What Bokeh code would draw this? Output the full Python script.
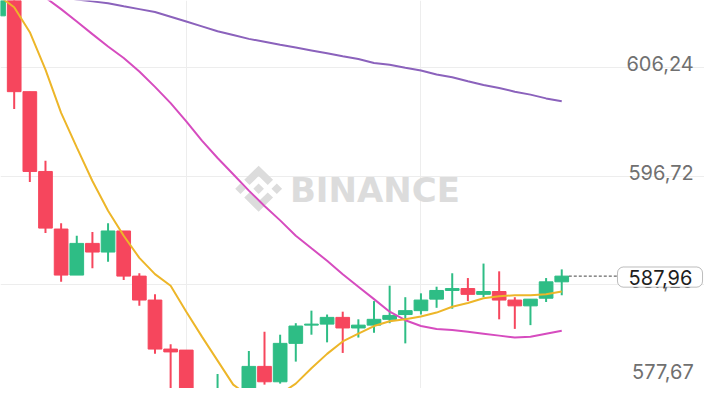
import numpy as np
from bokeh.plotting import figure
from bokeh.models import Range1d, FixedTicker, BoxAnnotation, Label, ColumnDataSource
from bokeh.core.properties import value
from bokeh.embed import file_html
from bokeh.resources import INLINE

# ---------------- data ----------------
idx = list(range(-1, 36))
opens = [610.79, 613.83, 604.14, 597.14, 592.09, 588.05, 590.83, 590.07, 591.92, 587.96,
         585.86, 581.56, 581.47, 575.07, 573.81, 576.93, 575.91, 580.04, 578.69, 582.06,
         583.66, 583.75, 584.34, 583.41, 583.66, 584.17, 584.59, 584.93, 585.94, 586.70,
         586.87, 586.36, 586.61, 585.86, 585.35, 586.02, 587.46]
highs = [614.25, 614.25, 604.14, 598.07, 592.59, 591.50, 591.84, 592.59, 591.92, 588.21,
         586.36, 581.98, 581.47, 576.76, 579.37, 577.77, 581.39, 583.08, 582.82, 583.83,
         584.93, 584.59, 584.84, 584.17, 585.77, 587.12, 586.11, 586.45, 587.03, 588.21,
         587.79, 589.06, 588.38, 586.11, 585.94, 587.79, 588.55]
lows = [610.79, 602.62, 596.22, 591.75, 587.46, 588.05, 588.64, 589.23, 587.62, 585.35,
        581.14, 575.91, 574.23, 572.54, 573.22, 575.07, 575.07, 578.44, 578.53, 580.46,
        582.82, 582.15, 581.22, 582.57, 582.99, 583.83, 582.06, 584.59, 585.18, 585.10,
        585.77, 586.11, 584.17, 583.33, 583.66, 585.69, 586.28]
closes = [613.83, 604.14, 597.14, 592.17, 588.05, 590.83, 590.07, 591.92, 587.96, 585.86,
          581.56, 581.31, 575.07, 573.39, 576.76, 576.08, 580.04, 578.69, 582.06, 583.58,
          583.75, 584.34, 583.41, 583.66, 584.17, 584.51, 584.93, 585.86, 586.70, 586.87,
          586.36, 586.61, 585.86, 585.35, 585.94, 587.46, 587.96]
ma7 = [612.56, 611.55, 609.36, 606.07, 602.28, 599.25, 596.30, 593.69, 591.50, 589.56,
       588.13, 587.12, 584.84, 582.65, 580.55, 578.44, 577.43, 577.18, 577.60, 578.53,
       579.87, 581.14, 582.23, 582.91, 583.58, 584.00, 584.17, 584.42, 584.76, 585.27,
       585.60, 586.02, 586.19, 586.28, 586.28, 586.36, 586.61]
ma25 = [615.26, 614.25, 613.24, 612.39, 611.38, 610.29, 609.19, 608.10, 607.09, 605.91,
        604.56, 603.13, 601.53, 599.84, 598.32, 596.89, 595.46, 594.11, 592.85, 591.50,
        590.40, 589.31, 588.13, 587.03, 585.94, 584.84, 584.09, 583.58, 583.33, 583.24,
        583.08, 582.91, 582.74, 582.57, 582.65, 582.91, 583.16]
ma99 = [613.49, 613.24, 612.98, 612.73, 612.48, 612.22, 612.06, 611.89, 611.63, 611.38,
        611.13, 610.71, 610.29, 609.87, 609.44, 609.11, 608.77, 608.52, 608.26, 608.01,
        607.76, 607.51, 607.25, 607.00, 606.66, 606.50, 606.24, 605.99, 605.65, 605.40,
        605.06, 604.73, 604.47, 604.14, 603.88, 603.55, 603.29]
tick_values = [606.24, 596.72, 587.20, 577.67]
tick_labels = ["606,24", "596,72", "587,20", "577,67"]
time_grid = [11, 26]

# ---------------- layout helpers (reference pixel -> data) ----------------
REF_W, REF_H = 720, 404
PX_X = 16.0                      # pixels per candle
X0 = 14.0                        # pixel of candle index 0
PX_Y = 113.0 / (tick_values[0] - tick_values[1])   # pixels per price unit
Y_TOP = tick_values[0] + 70.0 / PX_Y


def dx(px):
    return (px - X0) / PX_X


def dy(py):
    return Y_TOP - py / PX_Y


UP, DOWN = "#2EBD85", "#F6465D"

p = figure(width=704, height=388, output_backend="svg", toolbar_location=None,
           x_range=Range1d(dx(0), dx(REF_W)), y_range=Range1d(dy(REF_H), dy(0)),
           min_border=0, outline_line_color=None, background_fill_color="white")
p.xaxis.visible = False
p.yaxis.visible = False
p.xgrid.ticker = FixedTicker(ticks=time_grid)
p.ygrid.ticker = FixedTicker(ticks=tick_values)
p.grid.grid_line_color = "#EDEDED"
p.grid.grid_line_width = 1

# ---------------- watermark ----------------
WM = "#DCDCDC"
logo_polys = [
    [(38.73, 53.2), (63.3, 28.64), (87.89, 53.22), (102.19, 38.92), (63.3, 0.0), (24.42, 38.9)],
    [(0.0, 63.31), (14.3, 49.01), (28.6, 63.31), (14.3, 77.61)],
    [(63.31, 48.98), (77.63, 63.3), (63.31, 77.63), (48.98, 63.31)],
    [(98.01, 63.31), (112.31, 49.01), (126.61, 63.31), (112.31, 77.61)],
    [(38.73, 73.41), (63.3, 97.98), (87.89, 73.39), (102.19, 87.69), (63.3, 126.61), (24.41, 87.7)],
]
ls = 48.0 / 126.61
lcx, lcy = 264.0, 196.0
p.patches(xs=[[dx(lcx + (a - 63.3) * ls) for a, b in poly] for poly in logo_polys],
          ys=[[dy(lcy + (b - 63.3) * ls) for a, b in poly] for poly in logo_polys],
          fill_color=WM, line_color=None)
p.text(x=[dx(296)], y=[dy(197)], text=["BINANCE"], text_color=WM,
       text_font=value("DejaVu Sans"), text_font_style="bold", text_font_size="34px",
       text_align="left", text_baseline="middle")

# ---------------- candles ----------------
o = np.array(opens); c = np.array(closes)
colors = [UP if cc >= oo else DOWN for oo, cc in zip(opens, closes)]
src = ColumnDataSource(dict(x=idx, o=opens, h=highs, l=lows, c=closes,
                            top=np.maximum(o, c), bot=np.minimum(o, c), col=colors))
p.segment(x0="x", y0="h", x1="x", y1="l", color="col", line_width=2, source=src)
p.vbar(x="x", width=0.875, top="top", bottom="bot", fill_color="col",
       line_color="col", line_width=1, source=src)

# ---------------- moving averages ----------------
p.line(idx, ma99, line_color="#8B62BC", line_width=2)
p.line(idx, ma25, line_color="#D64CBF", line_width=2)
p.line(idx, ma7, line_color="#EDB629", line_width=2)

# ---------------- price scale labels ----------------
y_min_label = dy(REF_H) + 18.0 / PX_Y
label_y = [max(v + 4.0 / PX_Y, y_min_label) for v in tick_values]
p.text(x=[dx(709)] * len(tick_values), y=label_y,
       text=tick_labels, text_color="#707070", text_font=value("Inter"),
       text_font_size="20px", text_align="right", text_baseline="alphabetic")

# ---------------- last price marker ----------------
last_x = idx[-1]
last_c = closes[-1]
last_label = f"{last_c:.2f}".replace(".", ",")
p.segment(x0=[last_x + 0.45], y0=[last_c], x1=[dx(631)], y1=[last_c],
          line_color="#444444", line_width=1, line_dash="3 2")
box = BoxAnnotation(left=dx(631), right=dx(718), top=last_c + 9.5 / PX_Y,
                    bottom=last_c - 11.5 / PX_Y, fill_color="white", fill_alpha=1.0,
                    line_color="#222222", line_width=1, border_radius=6)
p.add_layout(box)
p.add_layout(Label(x=dx(675), y=last_c - 1.0 / PX_Y, text=last_label, text_align="center",
                   text_baseline="middle", text_font="Inter", text_font_size="20px",
                   text_color="#1E1E1E"))

open("out.html", "w").write(file_html(p, INLINE))
